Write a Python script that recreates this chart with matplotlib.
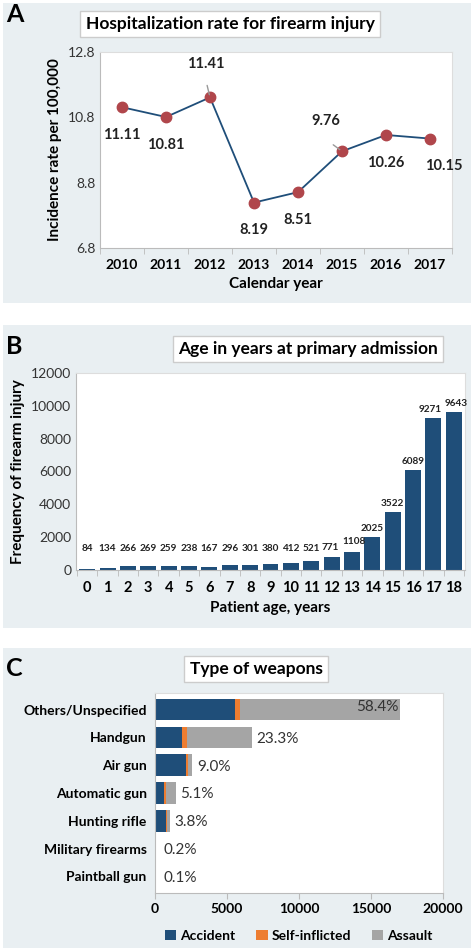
import matplotlib
matplotlib.use("Agg")
import matplotlib.pyplot as plt
from matplotlib.patches import Rectangle

plt.rcParams['font.family'] = ['Lato', 'DejaVu Sans']

years = [2010, 2011, 2012, 2013, 2014, 2015, 2016, 2017]
rates = [11.11, 10.81, 11.41, 8.19, 8.51, 9.76, 10.26, 10.15]

ages = list(range(19))
freq = [84, 134, 266, 269, 259, 238, 167, 296, 301, 380, 412, 521, 771, 1108, 2025, 3522, 6089, 9271, 9643]

weapons = ["Others/Unspecified", "Handgun", "Air gun", "Automatic gun", "Hunting rifle", "Military firearms", "Paintball gun"]
accident = [5570, 1860, 2160, 630, 770, 20, 15]
selfinf = [350, 350, 120, 120, 90, 10, 5]
assault = [11060, 4520, 320, 710, 210, 30, 15]
pct = ["58.4%", "23.3%", "9.0%", "5.1%", "3.8%", "0.2%", "0.1%"]

W, H = 474, 950
fig = plt.figure(figsize=(4.74, 9.5), dpi=100)
BG = '#e9eff2'
DARK = '#1f4e79'
for (y0, y1) in [(3, 303), (325, 628), (648, 948)]:
    fig.patches.append(Rectangle((3/W, 1-y1/H), 468/W, (y1-y0)/H, transform=fig.transFigure,
                                 facecolor=BG, edgecolor='none', zorder=-10))

def box_title(x, y, text, fs):
    fig.text(x/W, 1-y/H, text, ha='center', va='center', fontsize=fs, fontweight='bold',
             bbox=dict(facecolor='white', edgecolor='#cccccc', boxstyle='square,pad=0.3'))

def ax_at(l, t, r, b):
    return fig.add_axes([l/W, 1-b/H, (r-l)/W, (b-t)/H])

def style(ax):
    for s in ['top', 'right']:
        ax.spines[s].set_color('#dddddd')
    for s in ['left', 'bottom']:
        ax.spines[s].set_color('#bbbbbb')

# Panel A
fig.text(6/W, 1-15/H, 'A', fontsize=18, fontweight='bold', va='center')
box_title(230, 24, 'Hospitalization rate for firearm injury', 12.5)
ax = ax_at(100, 52, 452, 248)
x = list(range(len(years)))
ax.plot(x, rates, color=DARK, lw=1.3, marker='o', ms=7.5, mfc='#b0464b', mec='#b0464b')
ax.set_xlim(-0.5, 7.5)
ax.set_ylim(6.8, 12.8)
ax.set_yticks([6.8, 8.8, 10.8, 12.8])
ax.set_yticklabels(['6.8', '8.8', '10.8', '12.8'])
ax.set_xticks(x)
ax.set_xticklabels([str(y) for y in years], fontweight='bold')
ax.set_xticks([i + 0.5 for i in range(-1, 8)], minor=True)
ax.tick_params(axis='x', which='major', length=0, labelsize=10, pad=8)
ax.tick_params(axis='x', which='minor', length=4, color='#bbbbbb')
ax.tick_params(axis='y', length=0, labelsize=10, colors='#333333')
style(ax)
offs = [(0, -20), (0, -20), (-3, 24), (0, -20), (0, -20), (-12, 22), (0, -20), (10, -20)]
for i, (v, o) in enumerate(zip(rates, offs)):
    ax.annotate(f'{v:.2f}', (i, v), xytext=o, textcoords='offset points', ha='center', va='center',
                fontsize=10.5, fontweight='bold', color='#222222')
ax.annotate('', (2, rates[2]), xytext=(1.92, rates[2] + 0.45), arrowprops=dict(arrowstyle='-', color='#999999'))
ax.annotate('', (5, rates[5]), xytext=(4.75, rates[5] + 0.25), arrowprops=dict(arrowstyle='-', color='#999999'))
ax.set_ylabel('Incidence rate per 100,000', fontsize=11, fontweight='bold')
ax.set_xlabel('Calendar year', fontsize=11, fontweight='bold', labelpad=4)

# Panel B
fig.text(6/W, 1-(320+27)/H, 'B', fontsize=18, fontweight='bold', va='center')
box_title(308, 349, 'Age in years at primary admission', 12.5)
ax = ax_at(76, 373, 465, 570)
ax.bar(ages, freq, width=0.78, color=DARK)
ax.set_xlim(-0.55, 18.55)
ax.set_ylim(0, 12000)
ax.set_yticks(range(0, 12001, 2000))
ax.set_xticks(ages)
ax.set_xticklabels([str(a) for a in ages], fontweight='bold')
ax.set_xticks([i + 0.5 for i in range(-1, 19)], minor=True)
ax.tick_params(axis='x', which='major', length=0, labelsize=10.5, pad=8)
ax.tick_params(axis='x', which='minor', length=4, color='#bbbbbb')
ax.tick_params(axis='y', length=0, labelsize=10, colors='#333333')
style(ax)
for a, f in zip(ages, freq):
    if a < 12:
        xx, yv = a, max(f, 600) + 420
    elif a == 12:
        xx, yv = 11.95, f + 330
    elif a == 13:
        xx, yv = 13.1, f + 330
    elif a == 17:
        xx, yv = 16.85, f + 230
    elif a == 18:
        xx, yv = 18.1, f + 230
    else:
        xx, yv = a, f + 230
    ax.text(xx, yv, str(f), ha='center', va='bottom', fontsize=7.2, fontweight='bold', color='#222222')
ax.set_ylabel('Frequency of firearm injury', fontsize=11, fontweight='bold')
ax.set_xlabel('Patient age, years', fontsize=11, fontweight='bold', labelpad=4)

# Panel C
fig.text(6/W, 1-(640+29)/H, 'C', fontsize=18, fontweight='bold', va='center')
box_title(256, 669, 'Type of weapons', 12.5)
ax = ax_at(155, 693, 443, 893)
yy = list(range(len(weapons)))
left2 = [a + s for a, s in zip(accident, selfinf)]
tot = [a + s + b for a, s, b in zip(accident, selfinf, assault)]
ax.barh(yy, accident, height=0.78, color=DARK, label='Accident')
ax.barh(yy, selfinf, left=accident, height=0.78, color='#ed7d31', label='Self-inflicted')
ax.barh(yy, assault, left=left2, height=0.78, color='#a5a5a5', label='Assault')
for i, (t, p) in enumerate(zip(tot, pct)):
    if i == 0:
        ax.text(t - 100, i - 0.1, p, ha='right', va='center', fontsize=11, color='#333333')
    else:
        ax.text(max(t, 300) + 300, i + 0.05, p, ha='left', va='center', fontsize=11, color='#333333')
ax.set_yticks(yy)
ax.set_yticklabels(weapons, fontweight='bold', fontsize=10)
ax.set_ylim(6.6, -0.6)
ax.set_xlim(0, 20000)
ax.set_xticks(range(0, 20001, 5000))
ax.tick_params(axis='x', length=4, color='#bbbbbb', labelsize=10)
for lab in ax.get_xticklabels():
    lab.set_fontweight('bold')
ax.tick_params(axis='y', length=0, pad=6)
style(ax)
leg = ax.legend(loc='upper center', bbox_to_anchor=(0.5, -0.12), ncol=3, frameon=False,
                fontsize=10, handlelength=0.8, handleheight=0.8, handletextpad=0.3, columnspacing=1.5)
for t in leg.get_texts():
    t.set_fontweight('bold')

fig.savefig('out.png', dpi=100)
